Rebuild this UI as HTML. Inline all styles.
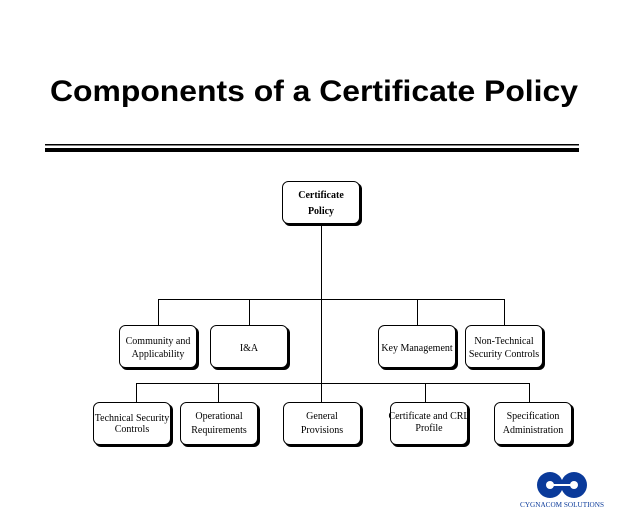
<!DOCTYPE html>
<html><head><meta charset="utf-8"><style>
html,body{margin:0;padding:0;background:#fff;}
svg{display:block;}
.b{fill:#fff;stroke:#000;stroke-width:1;}
.s{fill:#000;}
.t{font-family:"Liberation Serif",serif;font-size:10px;text-anchor:middle;fill:#000;}
</style></head><body>
<svg width="640" height="512" viewBox="0 0 640 512" xmlns="http://www.w3.org/2000/svg">
<text x="314" y="101" font-family="Liberation Sans, sans-serif" font-weight="bold" font-size="30" text-anchor="middle" textLength="528" lengthAdjust="spacingAndGlyphs">Components of a Certificate Policy</text>
<rect x="45" y="144" width="534" height="1.5" fill="#000"/>
<rect x="45" y="148" width="534" height="4" fill="#000"/>
<g stroke="#000" stroke-width="1" fill="none">
<line x1="321.5" y1="224" x2="321.5" y2="383"/>
<line x1="158" y1="299.5" x2="504" y2="299.5"/>
<line x1="158.5" y1="299" x2="158.5" y2="325"/>
<line x1="249.5" y1="299" x2="249.5" y2="325"/>
<line x1="417.5" y1="299" x2="417.5" y2="325"/>
<line x1="504.5" y1="299" x2="504.5" y2="325"/>
<line x1="136" y1="383.5" x2="530" y2="383.5"/>
<line x1="136.5" y1="383" x2="136.5" y2="402"/>
<line x1="218.5" y1="383" x2="218.5" y2="402"/>
<line x1="321.5" y1="383" x2="321.5" y2="402"/>
<line x1="425.5" y1="383" x2="425.5" y2="402"/>
<line x1="529.5" y1="383" x2="529.5" y2="402"/>
</g>
<g>
<rect class="s" x="284" y="183" width="78" height="43" rx="6"/><rect class="b" x="282.5" y="181.5" width="77" height="42" rx="6"/>
<text class="t" x="321" y="198" font-weight="bold" font-size="11">Certificate</text><text class="t" x="321" y="214" font-weight="bold" font-size="11">Policy</text>

<rect class="s" x="121" y="327" width="78" height="43" rx="6"/><rect class="b" x="119.5" y="325.5" width="77" height="42" rx="6"/>
<text class="t" x="158" y="344">Community and</text><text class="t" x="158" y="357">Applicability</text>
<rect class="s" x="212" y="327" width="78" height="43" rx="6"/><rect class="b" x="210.5" y="325.5" width="77" height="42" rx="6"/>
<text class="t" x="249" y="351">I&amp;A</text>
<rect class="s" x="380" y="327" width="78" height="43" rx="6"/><rect class="b" x="378.5" y="325.5" width="77" height="42" rx="6"/>
<text class="t" x="417" y="351">Key Management</text>
<rect class="s" x="467" y="327" width="78" height="43" rx="6"/><rect class="b" x="465.5" y="325.5" width="77" height="42" rx="6"/>
<text class="t" x="504" y="344">Non-Technical</text><text class="t" x="504" y="357">Security Controls</text>

<rect class="s" x="95" y="404" width="78" height="43" rx="6"/><rect class="b" x="93.5" y="402.5" width="77" height="42" rx="6"/>
<text class="t" x="132" y="421" font-size="8">Technical Security</text><text class="t" x="132" y="432" font-size="8">Controls</text>
<rect class="s" x="182" y="404" width="78" height="43" rx="6"/><rect class="b" x="180.5" y="402.5" width="77" height="42" rx="6"/>
<text class="t" x="219" y="419">Operational</text><text class="t" x="219" y="433">Requirements</text>
<rect class="s" x="285" y="404" width="78" height="43" rx="6"/><rect class="b" x="283.5" y="402.5" width="77" height="42" rx="6"/>
<text class="t" x="322" y="419">General</text><text class="t" x="322" y="433">Provisions</text>
<rect class="s" x="392" y="404" width="78" height="43" rx="6"/><rect class="b" x="390.5" y="402.5" width="77" height="42" rx="6"/>
<text class="t" x="429" y="419" font-size="8">Certificate and CRL</text><text class="t" x="429" y="431" font-size="8">Profile</text>
<rect class="s" x="496" y="404" width="78" height="43" rx="6"/><rect class="b" x="494.5" y="402.5" width="77" height="42" rx="6"/>
<text class="t" x="533" y="419">Specification</text><text class="t" x="533" y="433">Administration</text>
</g>
<g fill="#0a3a9a">
<circle cx="550" cy="485" r="13"/><circle cx="574" cy="485" r="13"/>
</g>
<g fill="#fff"><circle cx="550" cy="485" r="4"/><circle cx="574" cy="485" r="4"/><rect x="550" y="484" width="24" height="2"/></g>
<text x="562" y="507" font-family="Liberation Serif, serif" font-size="7" fill="#0a3a9a" text-anchor="middle" textLength="84" lengthAdjust="spacingAndGlyphs">CYGNACOM SOLUTIONS</text>
</svg>
</body></html>
